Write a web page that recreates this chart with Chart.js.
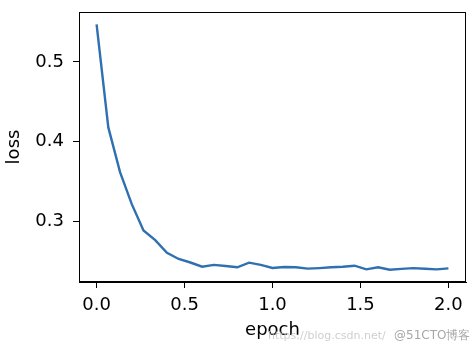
<!DOCTYPE html>
<html>
<head>
<meta charset="utf-8">
<script src="https://cdn.jsdelivr.net/npm/chart.js@4"></script>
<style>
  html, body { margin: 0; padding: 0; background: #fff; }
  #wrap { width: 474px; height: 349px; }
</style>
</head>
<body>
<div id="wrap"><canvas id="lossChart" width="474" height="349"></canvas></div>
<script>
// one point every 1/15 epoch
const epochs = [];
for (let i = 0; i <= 30; i++) epochs.push(i / 15);

const loss = [
  0.547, 0.418, 0.362, 0.322, 0.289, 0.277, 0.261, 0.2534, 0.249, 0.2438,
  0.246, 0.2446, 0.243, 0.2488, 0.246, 0.2421, 0.2434, 0.243, 0.2413, 0.242,
  0.243, 0.2437, 0.245, 0.2404, 0.243, 0.240, 0.241, 0.242, 0.2412, 0.2404,
  0.2416
];

const xTicks = [0, 0.5, 1.0, 1.5, 2.0];
const yTicks = [0.3, 0.4, 0.5];

const FONT = "'DejaVu Sans', sans-serif";

const frame = {
  id: "frame",
  afterDraw(chart) {
    const { ctx, chartArea } = chart;
    ctx.save();
    ctx.strokeStyle = "#000";
    ctx.lineWidth = 1;
    ctx.strokeRect(chartArea.left + 0.5, chartArea.top + 0.5,
      chartArea.right - chartArea.left - 1, chartArea.bottom - chartArea.top - 1);
    // watermark
    ctx.textBaseline = "middle";
    ctx.font = "11px " + FONT;
    ctx.fillStyle = "rgba(195,195,195,0.8)";
    ctx.fillText("https://blog.csdn.net/", 268, 336);
    ctx.font = "12px " + FONT;
    ctx.fillStyle = "rgba(150,150,150,0.85)";
    ctx.fillText("@51CTO博客", 394, 336);
    ctx.restore();
  }
};

new Chart(document.getElementById("lossChart"), {
  type: "line",
  data: {
    datasets: [{
      data: epochs.map((e, i) => ({ x: e, y: loss[i] })),
      borderColor: "#2f70b0",
      borderWidth: 2.4,
      pointRadius: 0,
      tension: 0,
      fill: false
    }]
  },
  options: {
    responsive: false,
    animation: false,
    layout: { padding: { left: 0, right: 8, top: 12, bottom: 0 } },
    plugins: { legend: { display: false }, tooltip: { enabled: false } },
    scales: {
      x: {
        type: "linear",
        min: -0.1,
        max: 2.1,
        afterBuildTicks: (s) => { s.ticks = xTicks.map((v) => ({ value: v })); },
        afterFit: (s) => { s.height = 67; s.paddingLeft = 0; s.paddingRight = 0; },
        grid: { drawOnChartArea: false, drawTicks: true, tickLength: 6, color: "#000", tickWidth: 1 },
        border: { color: "#000", width: 1 },
        ticks: {
          color: "#000",
          font: { family: FONT, size: 18 },
          padding: 7,
          maxRotation: 0,
          callback: (v) => v.toFixed(1)
        },
        title: {
          display: true,
          text: "epoch",
          color: "#000",
          font: { family: FONT, size: 18, lineHeight: 1 },
          padding: { top: 0, bottom: 10 }
        }
      },
      y: {
        min: 0.2246,
        max: 0.5624,
        afterBuildTicks: (s) => { s.ticks = yTicks.map((v) => ({ value: v })); },
        afterFit: (s) => { s.width = 79; s.paddingTop = 0; s.paddingBottom = 0; },
        grid: { drawOnChartArea: false, drawTicks: true, tickLength: 6, color: "#000", tickWidth: 1 },
        border: { color: "#000", width: 1 },
        ticks: {
          color: "#000",
          font: { family: FONT, size: 18 },
          padding: 9,
          callback: (v) => v.toFixed(1)
        },
        title: {
          display: true,
          text: "loss",
          color: "#000",
          font: { family: FONT, size: 18, lineHeight: 1 },
          padding: { top: 5, bottom: 0 }
        }
      }
    }
  },
  plugins: [frame]
});
</script>
</body>
</html>
